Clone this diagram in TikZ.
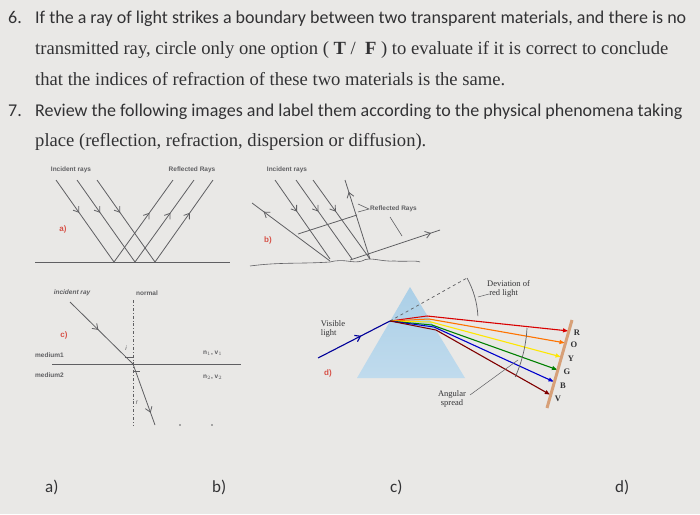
\documentclass[tikz,border=0pt]{standalone}
\usepackage{fontspec}
\setmainfont{Liberation Serif}
\newfontfamily\calfnt{Carlito}
\newfontfamily\labfnt{Liberation Sans}
\usetikzlibrary{arrows.meta,decorations.markings}
\definecolor{bg}{RGB}{233,232,230}
\definecolor{ink}{RGB}{50,50,52}
\definecolor{gr}{RGB}{95,95,98}
\definecolor{redl}{RGB}{215,80,70}
\definecolor{prism}{RGB}{150,195,225}
\definecolor{screenc}{RGB}{215,160,120}
\tikzset{
  q/.style={anchor=base west,inner sep=0,text=ink},
  lbl/.style={inner sep=0,text=gr,font=\labfnt\bfseries\fontsize{6.5}{7.5}\selectfont},
  tag/.style={inner sep=0,text=redl,font=\labfnt\bfseries\fontsize{8}{9}\selectfont},
  ray/.style={draw=gr,line width=0.8pt},
  midarr/.style={postaction={decorate},decoration={markings,mark=at position #1 with {\arrow{Straight Barb[length=5pt,width=7pt]}}}},
  serl/.style={inner sep=0,text=ink,font=\fontsize{8.5}{9.5}\selectfont,align=left},
  cray/.style={line width=1.1pt,-{Latex[length=6pt]}},
}
\begin{document}
\begin{tikzpicture}[x=1pt,y=-1pt]
\fill[bg] (0,0) rectangle (700,514);
\useasboundingbox (0,0) rectangle (700,514);
% questions
\node[q,font=\calfnt\fontsize{18}{20}\selectfont] (n6) at (8,23) {6.};
\node[q,font=\calfnt\fontsize{18}{20}\selectfont] (l1) at (35,23) {If the a ray of light strikes a boundary between two transparent materials, and there is no};
\node[q,font=\fontsize{18.6}{20}\selectfont] (l2) at (35,54) {transmitted ray, circle only one option ( \textbf{T} / \ \textbf{F} ) to evaluate if it is correct to conclude};
\node[q,font=\fontsize{18.6}{20}\selectfont] (l3) at (35,85) {that the indices of refraction of these two materials is the same.};
\node[q,font=\calfnt\fontsize{18}{20}\selectfont] (n7) at (8,116) {7.};
\node[q,font=\calfnt\fontsize{18}{20}\selectfont] (l4) at (35,116) {Review the following images and label them according to the physical phenomena taking};
\node[q,font=\fontsize{18.6}{20}\selectfont] (l5) at (35,146) {place (reflection, refraction, dispersion or diffusion).};
% a)
\node[lbl] (ia) at (71,170) {Incident rays};
\node[lbl] (ra) at (192,170) {Reflected Rays};
\node[tag] (ta) at (63,229) {a)};
\coordinate (g1) at (35,262); \coordinate (g2) at (230,262);
\draw[ray] (g1) -- (g2);
\foreach \sx/\gx/\ex in {56/114/173,77/135/194,97/155/213}{
  \draw[ray,midarr=0.4] (\sx,180) -- (\gx,262);
  \draw[ray,midarr=0.6] (\gx,262) -- (\ex,180);
}
% b)
\node[lbl] (ib) at (287,170) {Incident rays};
\node[lbl,anchor=west] (rb) at (370,209) {Reflected Rays};
\node[tag] (tb) at (268,240) {b)};
\draw[ray,line width=0.6pt] (250,266) .. controls (280,262) and (300,264) .. (330,262) .. controls (345,258) and (352,264) .. (362,261) .. controls (370,256) and (380,262) .. (395,261) .. controls (405,262) and (415,260) .. (420,262);
\foreach \sx/\gx in {275/330,296/352,313/370}{
  \draw[ray,midarr=0.4] (\sx,180) -- (\gx,259);
}
\draw[ray,midarr=0.85] (330,261) -- (252,203);
\draw[ray,midarr=0.85] (370,259) -- (345,180);
\draw[ray,midarr=0.9] (350,260) -- (440,230);
\draw[ray] (298,234) -- (357,215);
\draw[ray,line width=0.6pt] (358,204) -- (369,209) -- (358,212);
\draw[ray,line width=0.6pt] (390,217) -- (402,236);
% c)
\node[lbl,font=\labfnt\itshape\bfseries\fontsize{6.5}{7.5}\selectfont] (ic) at (72,293) {incident ray};
\node[lbl] (nc) at (147,293) {normal};
\node[tag] (tc) at (64,335) {c)};
\node[lbl,anchor=west] (m1) at (35,355) {medium1};
\node[lbl,anchor=west] (m2) at (35,375) {medium2};
\node[lbl,anchor=west] (nv1) at (203,353) {n$_1$, v$_1$};
\node[lbl,anchor=west] (nv2) at (203,377) {n$_2$, v$_2$};
\coordinate (n1) at (133,300); \coordinate (n2) at (133,426);
\draw[gr,line width=0.8pt,dash dot] (n1) -- (n2);
\draw[ray] (52,364) -- (241,364);
\coordinate (o) at (133,364);
\draw[ray,midarr=0.45] (70,302) -- (o);
\draw[ray,midarr=0.8] (o) -- (155,425);
\draw[gr,line width=0.6pt] (125,357) -- (133,357) (133,371) -- (140,371);
\node[lbl,font=\labfnt\itshape\fontsize{6.5}{7.5}\selectfont] (iang) at (126,348) {i};
\node[lbl,font=\labfnt\itshape\fontsize{6.5}{7.5}\selectfont] (rang) at (137,403) {r};
\fill[gr] (180,425) circle (0.8) (212,425) circle (0.8);
% d)
\coordinate (ap) at (410,287); \coordinate (bl) at (357,378); \coordinate (br) at (465,378);
\shade[top color=prism!80!white,bottom color=prism!60!white] (ap) -- (bl) -- (br) -- cycle;
\coordinate (en) at (390,321);
\draw[blue!60!black,line width=1.1pt,midarr=0.6] (318,358) -- (en);
\draw[gr,dashed,line width=0.7pt] (en) -- (467,278);
\draw[gr,line width=0.7pt] (467,278) arc[start angle=29,end angle=3,radius=88pt];
\draw[gr,line width=0.5pt] (478,297) -- (489,294);
\node[serl,anchor=west] (dev) at (487,289) {Deviation of\\\ red light};
\node[serl] (vis) at (333,329) {Visible\\light};
\node[tag] (td) at (328,373) {d)};
\foreach \c/\ex/\ey/\ox/\oy in {red!85!black/569/331/427/316, orange!90!red/565.5/343/429/319, yellow!90!orange/561.5/357/431/322, green!50!black/558/370/432/325, blue!80!black/554.4/382/434/327, red!50!black/550.7/395/436/330}{
  \draw[\c,line width=1pt] (en) -- (\ox,\oy);
  \draw[\c,cray] (\ox,\oy) -- (\ex,\ey);
}
\draw[screenc,line width=3pt] (572,320) -- (547,408);
\foreach \l/\x/\y in {R/577/333,O/574/345,Y/571/359,G/567/372,B/563/386,V/558/399}{
  \node[serl,font=\fontsize{8.5}{9}\selectfont\bfseries] (c\l) at (\x,\y) {\l};
}
\draw[gr,line width=0.7pt] (527,328) arc[start angle=-3,end angle=-24,radius=138pt];
\draw[gr,line width=0.5pt] (470,395) -- (518,360);
\node[serl,align=center] (ang) at (452,399) {Angular\\spread};
% bottom labels
\foreach \t/\x in {a/45,b/212,c/390,d/615}{
  \node[q,font=\calfnt\fontsize{17}{20}\selectfont] (b\t) at (\x,492) {\t)};
}
\end{tikzpicture}
\end{document}
